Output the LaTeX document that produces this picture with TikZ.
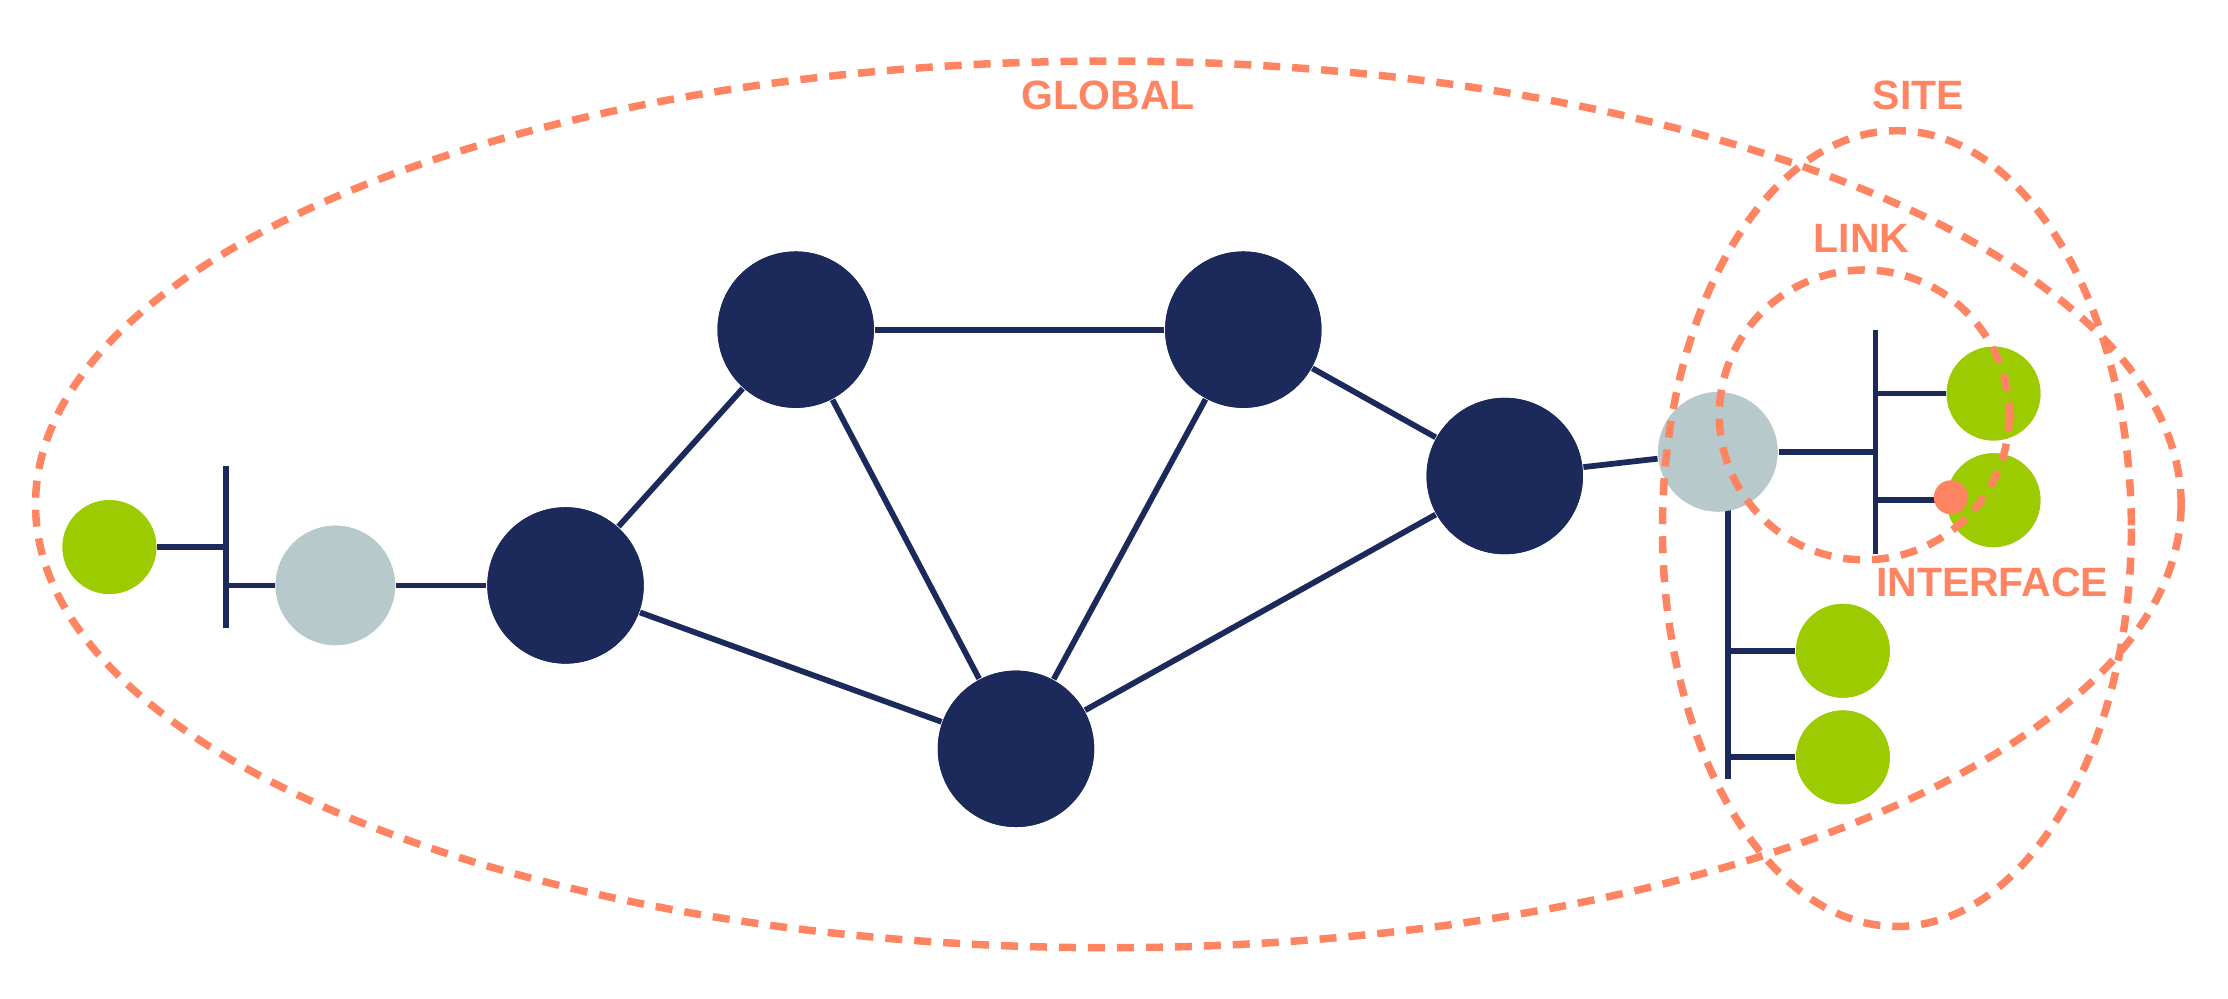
\documentclass[tikz,border=0pt]{standalone}
\usepackage{fontspec}
\setmainfont{Liberation Sans}
\begin{document}
\begin{tikzpicture}[x=0.01cm,y=-0.01cm,
  dark/.style={circle,fill=navy,minimum size=1.1cm,inner sep=0},
  grey/.style={circle,fill=greyc,minimum size=0.84cm,inner sep=0},
  green/.style={circle,fill=greenc,minimum size=0.66cm,inner sep=0},
  edge/.style={navy,line width=1.15pt},
  zone/.style={orangec,line width=1.5pt,dash pattern=on 3.4pt off 2.4pt},
  lbl/.style={text=orangec,font=\bfseries\fontsize{8.2}{10}\selectfont}]
\definecolor{navy}{HTML}{1B2A5A}
\definecolor{greyc}{HTML}{B7C9CB}
\definecolor{greenc}{HTML}{9BCB00}
\definecolor{orangec}{HTML}{FF8462}
\useasboundingbox (0,0) rectangle (1568,703);
% nodes
\node[green] (g1) at (77,385) {};
\node[grey] (s1) at (236,412) {};
\node[dark] (A) at (398,412) {};
\node[dark] (B) at (560,232) {};
\node[dark] (C) at (875,232) {};
\node[dark] (D) at (1059,335) {};
\node[dark] (E) at (715,527) {};
\node[grey] (s2) at (1209,318) {};
\node[green] (g2) at (1403,277) {};
\node[green] (g3) at (1403,352) {};
\node[green] (g4) at (1297,458) {};
\node[green] (g5) at (1297,533) {};
% bars
\coordinate (b1t) at (159,328); \coordinate (b1b) at (159,442);
\coordinate (b2t) at (1320,232); \coordinate (b2b) at (1320,390);
\coordinate (b3t) at (1216,318); \coordinate (b3b) at (1216,548);
\draw[edge] (b1t) -- (b1b);
\draw[edge] (b2t) -- (b2b);
\draw[edge] (b3t) -- (b3b);
\draw[edge] (g1) -- (g1 -| b1t);
\draw[edge] (s1) -- (s1 -| b1t);
\draw[edge] (s2) -- (s2 -| b2t);
\draw[edge] (g2) -- (g2 -| b2t);
\draw[edge] (g3) -- (g3 -| b2t);
\draw[edge] (g4) -- (g4 -| b3t);
\draw[edge] (g5) -- (g5 -| b3t);
\draw[edge] (s1) -- (A);
\draw[edge] (A) -- (B);
\draw[edge] (A) -- (E);
\draw[edge] (B) -- (C);
\draw[edge] (B) -- (E);
\draw[edge] (C) -- (E);
\draw[edge] (C) -- (D);
\draw[edge] (D) -- (E);
\draw[edge] (D) -- (s2);
% redraw nodes on top of edges
\foreach \n/\s in {g1/green,s1/grey,A/dark,B/dark,C/dark,D/dark,E/dark,s2/grey,g2/green,g3/green,g4/green,g5/green}
  \node[\s] at (\n) {};
% zones
\draw[zone] (780,355) ellipse [x radius=755, y radius=312];
\draw[zone] (1335,372) ellipse [x radius=165, y radius=280];
\draw[zone] (1312,292) circle [radius=102];
\node[circle,fill=orangec,minimum size=0.24cm,inner sep=0] (dot) at (1373,350) {};
\node[lbl] (tg) at (780,67) {GLOBAL};
\node[lbl] (ts) at (1350,67) {SITE};
\node[lbl] (tl) at (1310,168) {LINK};
\node[lbl] (ti) at (1402,410) {INTERFACE};
\end{tikzpicture}
\end{document}
